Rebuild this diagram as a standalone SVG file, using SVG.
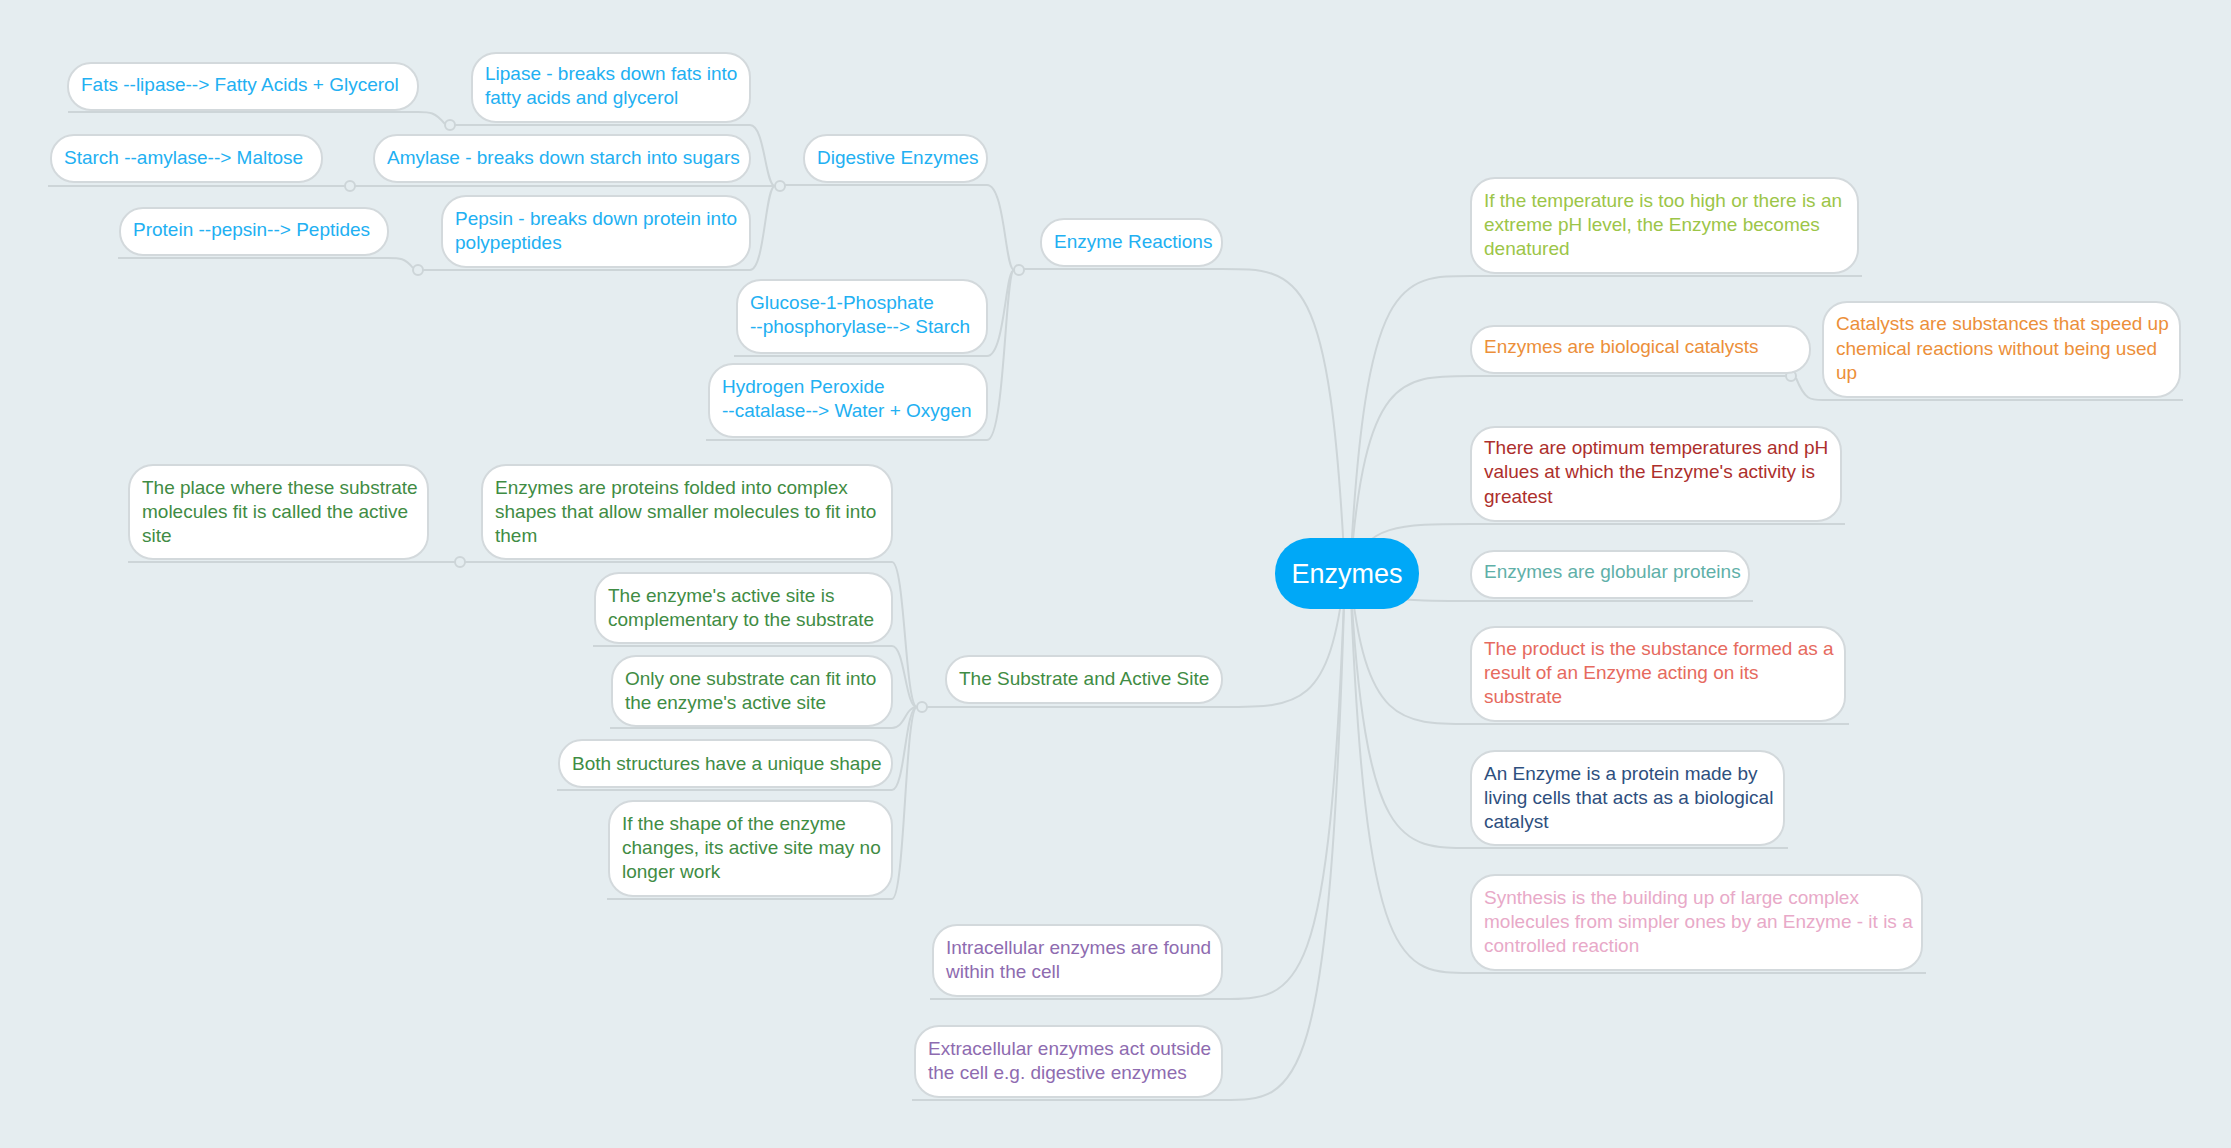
<svg xmlns="http://www.w3.org/2000/svg" width="2231" height="1148" viewBox="0 0 2231 1148">
<style>
text{font-family:"Liberation Sans",Arial,sans-serif;font-size:19px}
text.root{font-size:27px}
.n{fill:#fff;stroke:#d3d9dc;stroke-width:2}
.c{fill:none;stroke:#cdd5d8;stroke-width:2}
.j{fill:#e5edf0;stroke:#cdd5d8;stroke-width:2}
.b{fill:#22b0f2}.g{fill:#3f8c44}
</style>
<rect width="2231" height="1148" fill="#e5edf0"/>
<g id="connectors">
<path class="c" d="M1350 573 C1365 276 1400 276 1471 276 H1862"/>
<path class="c" d="M1350 573 C1365 376 1400 376 1471 376 H1791"/>
<path class="c" d="M1796 378 C1805 400 1810 400 1823 400 H2183"/>
<path class="c" d="M1350 573 C1365 524 1400 524 1471 524 H1845"/>
<path class="c" d="M1350 573 C1365 601 1400 601 1471 601 H1753"/>
<path class="c" d="M1350 573 C1365 724 1400 724 1471 724 H1849"/>
<path class="c" d="M1350 573 C1365 848 1400 848 1471 848 H1788"/>
<path class="c" d="M1350 573 C1365 973 1400 973 1471 973 H1926"/>
<path class="c" d="M1345 573 C1330 269 1300 269 1222 269 H1024"/>
<path class="c" d="M1345 573 C1330 707 1300 707 1222 707 H927"/>
<path class="c" d="M1345 573 C1330 999 1300 999 1222 999 H930"/>
<path class="c" d="M1345 573 C1330 1100 1300 1100 1222 1100 H912"/>
<path class="c" d="M1014 270 C1005 270 1005 185 987 185 H785"/>
<path class="c" d="M1014 270 C1005 270 1005 356 987 356 H734"/>
<path class="c" d="M1014 270 C1005 270 1005 440 987 440 H706"/>
<path class="c" d="M775 186 C765 186 765 125 750 125 H455"/>
<path class="c" d="M775 186 H355"/>
<path class="c" d="M775 186 C765 186 765 270 750 270 H423"/>
<path class="c" d="M445 124 C435 112 430 112 418 112 H68"/>
<path class="c" d="M345 186 H48"/>
<path class="c" d="M413 268 C405 258 400 258 388 258 H118"/>
<path class="c" d="M917 707 C905 707 905 562 892 562 H465"/>
<path class="c" d="M917 707 C905 707 905 646 892 646 H593"/>
<path class="c" d="M917 707 C905 707 905 728 892 728 H610"/>
<path class="c" d="M917 707 C905 707 905 790 892 790 H557"/>
<path class="c" d="M917 707 C905 707 905 899 892 899 H607"/>
<path class="c" d="M455 562 H128"/>
<circle class="j" cx="1791" cy="376" r="5"/>
<circle class="j" cx="1019" cy="270" r="5"/>
<circle class="j" cx="780" cy="186" r="5"/>
<circle class="j" cx="450" cy="125" r="5"/>
<circle class="j" cx="350" cy="186" r="5"/>
<circle class="j" cx="418" cy="270" r="5"/>
<circle class="j" cx="922" cy="707" r="5"/>
<circle class="j" cx="460" cy="562" r="5"/>
</g>
<g id="root"><rect x="1275" y="538" width="144" height="71" rx="35" fill="#00a8f7"/><text class="root" x="1347" y="583" text-anchor="middle" fill="#fff">Enzymes</text></g>
<g id="temp"><rect class="n" x="1471" y="178" width="387" height="95" rx="24"/><text fill="#9cc548"><tspan x="1484" y="207">If the temperature is too high or there is an</tspan><tspan x="1484" y="231">extreme pH level, the Enzyme becomes</tspan><tspan x="1484" y="255">denatured</tspan></text></g>
<g id="catalysts"><rect class="n" x="1471" y="326" width="339" height="47" rx="23"/><text x="1484" y="353" fill="#ec8f3a">Enzymes are biological catalysts</text></g>
<g id="catdef"><rect class="n" x="1823" y="302" width="357" height="95" rx="24"/><text fill="#ec8f3a"><tspan x="1836" y="330">Catalysts are substances that speed up</tspan><tspan x="1836" y="355">chemical reactions without being used</tspan><tspan x="1836" y="379">up</tspan></text></g>
<g id="optimum"><rect class="n" x="1471" y="427" width="370" height="94" rx="24"/><text fill="#ad2f2c"><tspan x="1484" y="454">There are optimum temperatures and pH</tspan><tspan x="1484" y="478">values at which the Enzyme's activity is</tspan><tspan x="1484" y="503">greatest</tspan></text></g>
<g id="globular"><rect class="n" x="1471" y="551" width="278" height="47" rx="23"/><text x="1484" y="578" fill="#5fb0a8">Enzymes are globular proteins</text></g>
<g id="product"><rect class="n" x="1471" y="627" width="374" height="94" rx="24"/><text fill="#e66a5e"><tspan x="1484" y="655">The product is the substance formed as a</tspan><tspan x="1484" y="679">result of an Enzyme acting on its</tspan><tspan x="1484" y="703">substrate</tspan></text></g>
<g id="protein"><rect class="n" x="1471" y="751" width="313" height="94" rx="24"/><text fill="#2e4f7e"><tspan x="1484" y="780">An Enzyme is a protein made by</tspan><tspan x="1484" y="804">living cells that acts as a biological</tspan><tspan x="1484" y="828">catalyst</tspan></text></g>
<g id="synthesis"><rect class="n" x="1471" y="875" width="451" height="95" rx="24"/><text fill="#e8a9c8"><tspan x="1484" y="904">Synthesis is the building up of large complex</tspan><tspan x="1484" y="928">molecules from simpler ones by an Enzyme - it is a</tspan><tspan x="1484" y="952">controlled reaction</tspan></text></g>
<g id="reactions"><rect class="n" x="1041" y="219" width="181" height="47" rx="23"/><text class="b" x="1054" y="248">Enzyme Reactions</text></g>
<g id="digestive"><rect class="n" x="804" y="135" width="183" height="47" rx="23"/><text class="b" x="817" y="164">Digestive Enzymes</text></g>
<g id="lipase"><rect class="n" x="472" y="53" width="278" height="69" rx="24"/><text class="b"><tspan x="485" y="80">Lipase - breaks down fats into</tspan><tspan x="485" y="104">fatty acids and glycerol</tspan></text></g>
<g id="fats"><rect class="n" x="68" y="63" width="350" height="47" rx="23"/><text class="b" x="81" y="91">Fats --lipase--&gt; Fatty Acids + Glycerol</text></g>
<g id="amylase"><rect class="n" x="374" y="135" width="376" height="47" rx="23"/><text class="b" x="387" y="164">Amylase - breaks down starch into sugars</text></g>
<g id="starch"><rect class="n" x="51" y="135" width="271" height="47" rx="23"/><text class="b" x="64" y="164">Starch --amylase--&gt; Maltose</text></g>
<g id="pepsin"><rect class="n" x="442" y="196" width="308" height="71" rx="24"/><text class="b"><tspan x="455" y="225">Pepsin - breaks down protein into</tspan><tspan x="455" y="249">polypeptides</tspan></text></g>
<g id="proteinpep"><rect class="n" x="120" y="208" width="268" height="47" rx="23"/><text class="b" x="133" y="236">Protein --pepsin--&gt; Peptides</text></g>
<g id="glucose"><rect class="n" x="737" y="280" width="250" height="73" rx="24"/><text class="b"><tspan x="750" y="309">Glucose-1-Phosphate</tspan><tspan x="750" y="333">--phosphorylase--&gt; Starch</tspan></text></g>
<g id="hydrogen"><rect class="n" x="709" y="364" width="278" height="73" rx="24"/><text class="b"><tspan x="722" y="393">Hydrogen Peroxide</tspan><tspan x="722" y="417">--catalase--&gt; Water + Oxygen</tspan></text></g>
<g id="substrate"><rect class="n" x="946" y="656" width="276" height="47" rx="23"/><text class="g" x="959" y="685">The Substrate and Active Site</text></g>
<g id="folded"><rect class="n" x="482" y="465" width="410" height="94" rx="24"/><text class="g"><tspan x="495" y="494">Enzymes are proteins folded into complex</tspan><tspan x="495" y="518">shapes that allow smaller molecules to fit into</tspan><tspan x="495" y="542">them</tspan></text></g>
<g id="place"><rect class="n" x="129" y="465" width="299" height="94" rx="24"/><text class="g"><tspan x="142" y="494">The place where these substrate</tspan><tspan x="142" y="518">molecules fit is called the active</tspan><tspan x="142" y="542">site</tspan></text></g>
<g id="complementary"><rect class="n" x="595" y="573" width="297" height="70" rx="24"/><text class="g"><tspan x="608" y="602">The enzyme's active site is</tspan><tspan x="608" y="626">complementary to the substrate</tspan></text></g>
<g id="onlyone"><rect class="n" x="612" y="656" width="280" height="70" rx="24"/><text class="g"><tspan x="625" y="685">Only one substrate can fit into</tspan><tspan x="625" y="709">the enzyme's active site</tspan></text></g>
<g id="both"><rect class="n" x="559" y="740" width="333" height="47" rx="23"/><text class="g" x="572" y="770">Both structures have a unique shape</text></g>
<g id="shape"><rect class="n" x="609" y="801" width="283" height="95" rx="24"/><text class="g"><tspan x="622" y="830">If the shape of the enzyme</tspan><tspan x="622" y="854">changes, its active site may no</tspan><tspan x="622" y="878">longer work</tspan></text></g>
<g id="intra"><rect class="n" x="933" y="925" width="289" height="71" rx="24"/><text fill="#8e6bb0"><tspan x="946" y="954">Intracellular enzymes are found</tspan><tspan x="946" y="978">within the cell</tspan></text></g>
<g id="extra"><rect class="n" x="915" y="1026" width="307" height="71" rx="24"/><text fill="#8e6bb0"><tspan x="928" y="1055">Extracellular enzymes act outside</tspan><tspan x="928" y="1079">the cell e.g. digestive enzymes</tspan></text></g>
</svg>
